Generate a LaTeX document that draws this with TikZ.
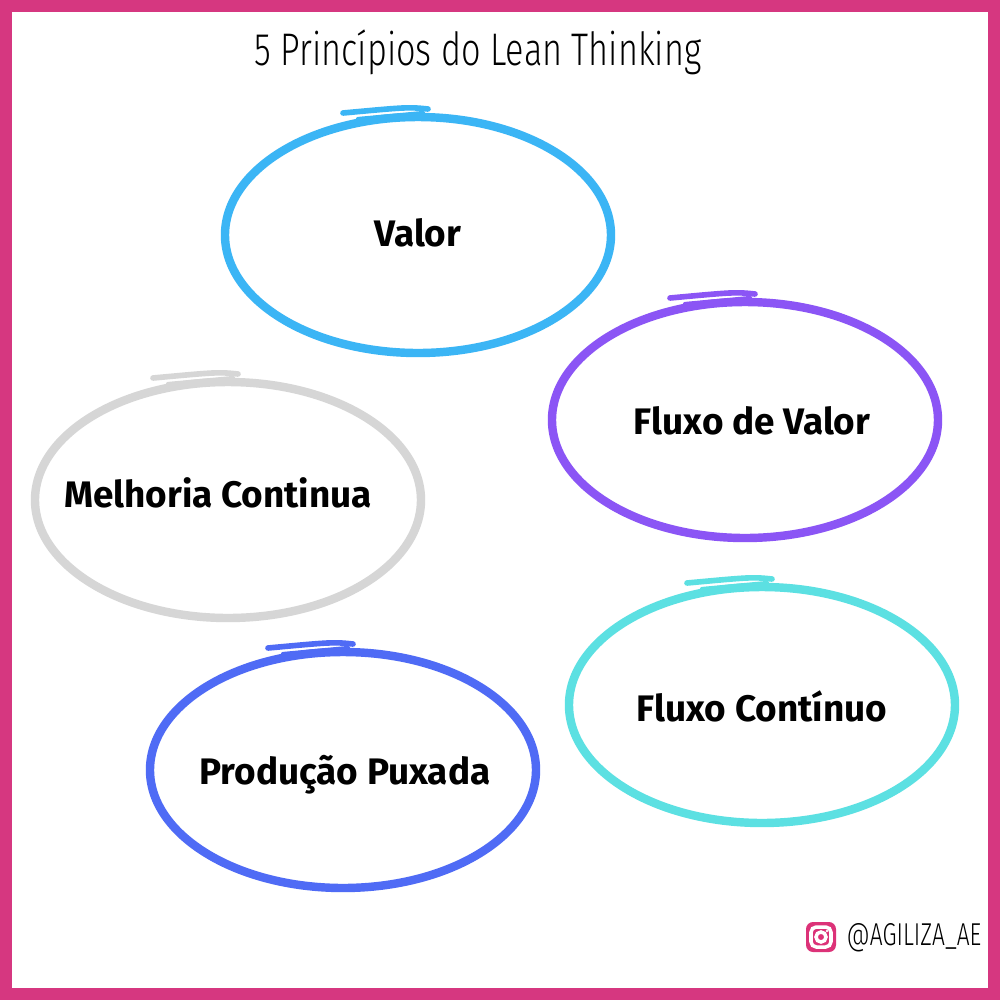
\documentclass[tikz,border=0pt]{standalone}
\usepackage{fontspec}
\setmainfont{Fira Sans}
\newfontfamily\titlefont{Fira Sans Light}
\begin{document}
\begin{tikzpicture}[x=0.1mm,y=-0.1mm,
  ring/.style={line width=2.4pt,line cap=round},
  lbl/.style={font=\fontsize{10.5}{12}\selectfont\bfseries}]
\definecolor{frame}{RGB}{214,55,128}
\definecolor{cValor}{RGB}{59,181,245}
\definecolor{cFluxo}{RGB}{139,85,245}
\definecolor{cMel}{RGB}{214,214,214}
\definecolor{cCont}{RGB}{92,224,226}
\definecolor{cProd}{RGB}{79,107,245}
\definecolor{igc}{RGB}{220,50,120}
\useasboundingbox (0,0) rectangle (1000,1000);
\fill[white] (0,0) rectangle (1000,1000);
\draw[frame,line width=3.4pt] (6,6) rectangle (994,994);
\node[font=\titlefont\fontsize{13}{15}\selectfont] (title) at (478,52) {\scalebox{0.75}[1]{5 Princípios do Lean Thinking}};
% ellipses
\foreach \cx/\cy/\c/\n in {418/235/cValor/a,745/420/cFluxo/b,228/500/cMel/c,762/705/cCont/d,343/770/cProd/e}{
  \draw[ring,\c] (\cx,\cy) ellipse[x radius=193,y radius=118];
  \draw[ring,\c,line width=1.6pt] (\cx-75,\cy-122) .. controls (\cx-10,\cy-128) .. (\cx+10,\cy-126);
  \draw[ring,\c,line width=1.2pt] (\cx-60,\cy-116) -- (\cx+5,\cy-122);
}
\node[lbl] (v) at (418,233) {Valor};
\node[lbl] (fv) at (752,421) {Fluxo de Valor};
\node[lbl] (mc) at (218,493) {Melhoria Continua};
\node[lbl] (fc) at (762,706) {Fluxo Contínuo};
\node[lbl] (pp) at (345,775) {Produção Puxada};
% instagram
\fill[igc,rounded corners=2pt] (806,922) rectangle (836,952);
\draw[white,line width=1pt,rounded corners=1.5pt] (811,927) rectangle (831,947);
\draw[white,line width=1pt] (821,937) circle (5);
\fill[white] (827,931) circle (1.3);
\node[font=\titlefont\fontsize{9}{11}\selectfont,anchor=west,inner sep=0pt] (ig) at (846,938) {\scalebox{0.72}[1]{@AGILIZA\_AE}};
\end{tikzpicture}
\end{document}
